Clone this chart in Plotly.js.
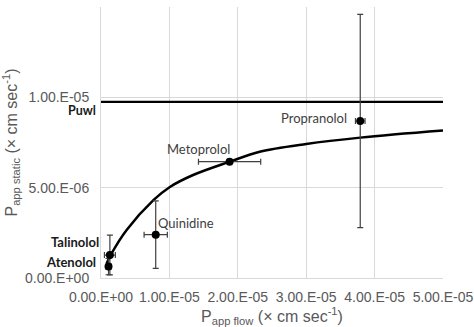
<!DOCTYPE html>
<html>
<head>
<meta charset="utf-8">
<script src="https://cdn.plot.ly/plotly-3.0.1.min.js"></script>
<style>html,body{margin:0;padding:0;background:#fff}#chart{width:474px;height:327px}</style>
</head>
<body>
<div id="chart"></div>
<script>
// Drug data
const drugs = ["Atenolol", "Talinolol", "Quinidine", "Metoprolol", "Propranolol"];
const pappFlow = [1.1e-6, 1.3e-6, 8.0e-6, 1.88e-5, 3.79e-5];
const pappFlowErr = [0.4e-6, 0.8e-6, 1.7e-6, 4.55e-6, 0.7e-6];
const pappStatic = [0.63e-6, 1.27e-6, 2.4e-6, 6.44e-6, 8.69e-6];
const pappStaticErr = [0.45e-6, 1.1e-6, 1.87e-6, 0.05e-6, 5.9e-6];

// Fitted curve
const fitX = [0.83e-6, 1.56e-6, 3.75e-6, 7.7e-6, 1.007e-5, 1.347e-5, 1.883e-5, 2.32e-5, 3.0e-5, 3.79e-5, 5.0e-5];
const fitY = [0.81e-6, 1.37e-6, 2.66e-6, 4.32e-6, 5.04e-6, 5.70e-6, 6.44e-6, 6.99e-6, 7.42e-6, 7.77e-6, 8.16e-6];

// Puwl line
const puwlValue = 9.75e-6;
const puwlX = [0, 5e-5];

// Tick labels
const xTickVals = [0, 1e-5, 2e-5, 3e-5, 4e-5, 5e-5];
const xTickText = ["0.00.E+00", "1.00.E-05", "2.00.E-05", "3.00.E-05", "4.00.E-05", "5.00.E-05"];
const yTickVals = [0, 5e-6, 1e-5, 1.5e-5];
const yTickText = ["0.00.E+00", "5.00.E-06", "1.00.E-05", "1.50.E-05"];

const tickFont = {family: "Liberation Sans, Arial, sans-serif", size: 14, color: "#595959"};
const labelFont = {family: "Lato, sans-serif", size: 13, color: "#404040"};
const boldFont = {family: "Lato, sans-serif", size: 13, color: "#1a1a1a", weight: 700};

const traces = [
  {
    x: puwlX, y: [puwlValue, puwlValue], mode: "lines",
    line: {color: "#000", width: 2.2}, hoverinfo: "skip", showlegend: false
  },
  {
    x: fitX, y: fitY, mode: "lines",
    line: {color: "#000", width: 2.5, shape: "spline"}, showlegend: false
  },
  {
    x: pappFlow, y: pappStatic, mode: "markers",
    marker: {color: "#000", size: 8},
    error_x: {type: "data", array: pappFlowErr, color: "#404040", thickness: 1.2, width: 3},
    error_y: {type: "data", array: pappStaticErr, color: "#404040", thickness: 1.2, width: 3},
    showlegend: false
  }
];

const layout = {
  width: 474, height: 327,
  margin: {l: 101, r: 31, t: 7, b: 49},
  paper_bgcolor: "#fff", plot_bgcolor: "#fff",
  showlegend: false,
  xaxis: {
    range: [0, 5e-5], tickvals: xTickVals, ticktext: xTickText,
    tickfont: tickFont, showgrid: true, gridcolor: "#d9d9d9", gridwidth: 1,
    zeroline: false, showline: true, linecolor: "#d9d9d9", ticks: "",
    ticklabelstandoff: 6,
    title: {text: "P<sub>app flow</sub> (× cm sec<sup>-1</sup>)", font: {family: "Liberation Sans, Arial, sans-serif", size: 16, color: "#595959"}, standoff: 6}
  },
  yaxis: {
    range: [0, 1.5e-5], tickvals: yTickVals, ticktext: yTickText,
    tickfont: tickFont, showgrid: true, gridcolor: "#d9d9d9", gridwidth: 1,
    zeroline: false, showline: true, linecolor: "#d9d9d9", ticks: "",
    ticklabelstandoff: 8,
    title: {text: "P<sub>app static</sub> (× cm sec<sup>-1</sup>)", font: {family: "Liberation Sans, Arial, sans-serif", size: 16, color: "#595959"}, standoff: 6}
  },
  annotations: [
    {xref: "paper", x: 0, y: 9.25e-6, xanchor: "right", yanchor: "middle", xshift: -3, text: "Puwl", showarrow: false, font: {family: "Lato, sans-serif", size: 12.5, color: "#1a1a1a", weight: 700}},
    {xref: "paper", x: 0, y: 1.99e-6, xanchor: "right", yanchor: "middle", xshift: 0, text: drugs[1], showarrow: false, font: boldFont},
    {xref: "paper", x: 0, y: 0.89e-6, xanchor: "right", yanchor: "middle", xshift: -3, text: drugs[0], showarrow: false, font: boldFont},
    {x: pappFlow[2], y: 3.05e-6, xanchor: "left", yanchor: "middle", text: drugs[2], showarrow: false, font: labelFont},
    {x: 9.34e-6, y: 7.14e-6, xanchor: "left", yanchor: "middle", text: drugs[3], showarrow: false, font: labelFont},
    {x: 2.6e-5, y: 8.86e-6, xanchor: "left", yanchor: "middle", text: drugs[4], showarrow: false, font: labelFont}
  ]
};

Plotly.newPlot("chart", traces, layout, {staticPlot: true, displayModeBar: false});
</script>
</body>
</html>
